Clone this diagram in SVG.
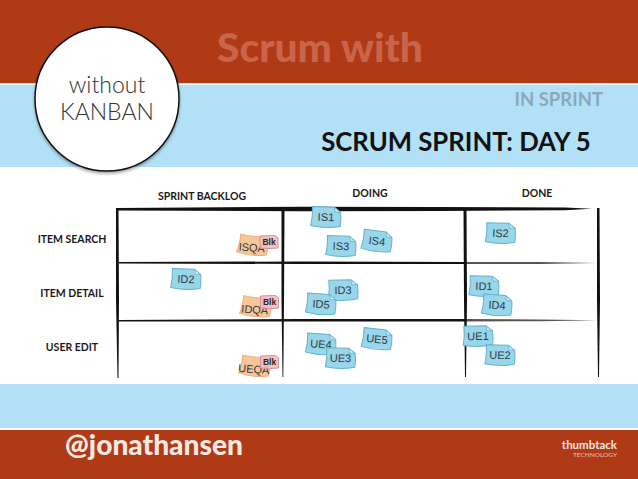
<svg xmlns="http://www.w3.org/2000/svg" width="638" height="479" viewBox="0 0 638 479">
<defs>
<style>
text{font-family:"Lato","Liberation Sans",sans-serif}
.s{font-family:"Liberation Sans",Arial,sans-serif;font-size:11px;fill:#2a3a42;text-anchor:middle}
.k{font-family:"Liberation Sans",Arial,sans-serif;font-size:8.500px;font-weight:700;fill:#2a2a2a;text-anchor:middle}
.h{font-family:"Lato","Liberation Sans",sans-serif;font-size:10.500px;font-weight:700;fill:#1a1a1a;text-anchor:middle}
.ln{fill:#111;stroke:none}
.fd{fill:#555;stroke:none}
.b{fill:#9ad6ea;stroke:#62b3cd;stroke-width:1}
.o{fill:#f8c698;stroke:#efae74;stroke-width:1}
.p{fill:#f3bcc0;fill-opacity:.9;stroke:#dc8f98;stroke-width:1}
.f{fill:#cbeaf4;stroke:#62b3cd;stroke-width:.8}
</style>
<g id="note"><path class="b" d="M-14-10 L8-10 L14.500-5 Q15.500 2 14.500 9 Q0 12-15 9 Q-13 0-14-10Z"/><path class="f" d="M8-10 L9-5 L14.500-5Z"/></g>
<g id="qa"><path class="o" d="M-13-10 Q0-8 15-9 Q16 1 14 9 Q0 12-16 8 Q-13 0-13-10Z"/></g>
<g id="blk"><path class="p" d="M-9-6 L6-6.500 L9-4 L9 6 Q0 7-9 6Z"/></g>
<filter id="sh" x="-20%" y="-20%" width="140%" height="140%"><feDropShadow dx="0" dy="2" stdDeviation="1.500" flood-color="#000" flood-opacity=".35"/></filter>
</defs>

<g id="background">
<rect width="638" height="83.500" fill="#b03a15"/>
<rect y="83.500" width="638" height="84" fill="#fff"/>
<rect y="85" width="638" height="82" fill="#b2e0f7"/>
<rect y="167" width="638" height="217" fill="#fff"/>
<rect y="384" width="638" height="44" fill="#b2e0f7"/>
<rect y="428" width="638" height="2" fill="#fff"/>
<rect y="430" width="638" height="49" fill="#b03a15"/>
</g>

<g id="titles">
<text x="217" y="62" font-size="40" font-weight="900" fill="#c9654a" textLength="206" lengthAdjust="spacingAndGlyphs">Scrum with</text>
<text x="603" y="106" font-size="18.500" font-weight="700" fill="#8aa9b9" text-anchor="end">IN SPRINT</text>
<text x="456" y="151" font-size="25.700" font-weight="700" fill="#111" text-anchor="middle">SCRUM SPRINT: DAY 5</text>
<text x="65" y="455" font-size="29" font-weight="900" fill="#f6e9e3" textLength="178" lengthAdjust="spacingAndGlyphs">@jonathansen</text>
<text x="617" y="449" font-size="11.500" font-weight="700" fill="#f3e6e0" text-anchor="end">thumbtack</text>
<text x="617" y="457" font-size="6.500" fill="#e5c5b8" text-anchor="end">TECHNOLOGY</text>
</g>

<g id="badge">
<circle cx="107" cy="99" r="72" fill="#fff" stroke="#111" stroke-width="1.500" filter="url(#sh)"/>
<text x="107" y="93" font-size="23" font-weight="300" fill="#333" text-anchor="middle">without</text>
<text x="107" y="120" font-size="23" font-weight="300" fill="#333" text-anchor="middle">KANBAN</text>
</g>

<g id="headers">
<text class="h" x="202" y="200">SPRINT BACKLOG</text>
<text class="h" x="370" y="197">DOING</text>
<text class="h" x="537" y="197">DONE</text>
<text class="h" x="72" y="243">ITEM SEARCH</text>
<text class="h" x="72" y="297">ITEM DETAIL</text>
<text class="h" x="72" y="351">USER EDIT</text>
</g>

<g id="connectors">
<path class="ln" d="M118 208 L300 206.800 L440 207 L565 207.500 L592 208.800 L565 210.200 L440 211 L300 211.200 L118 210.500Z"/>
<path class="ln" d="M119 262 L300 261.500 L465 262 L465 264 L300 264 L119 263.500Z"/>
<path class="fd" d="M465 262 L540 262 L597 263 L540 264 L465 264Z"/>
<path class="ln" d="M119 320 L300 319 L465 319 L465 321.500 L300 321.500 L119 321.500Z"/>
<path class="fd" d="M465 319 L540 319.500 L597 320.200 L540 321.200 L465 321.500Z"/>
<path class="ln" d="M116 208 L118.500 208 L119 300 L118.500 378 L117.500 378 L116 300Z"/>
<path class="ln" d="M281.500 208 L284.500 208 L284 300 L283.300 377 L282.500 377 L281.500 300Z"/>
<path class="ln" d="M463.500 208 L466.500 208 L467 300 L466 377 L465 377 L464 300Z"/>
<path class="ln" d="M597 208 L599.500 208 L600 300 L599 377 L598 377 L597 300Z"/>
</g>

<g id="IS1" transform="translate(326 217) rotate(2)"><use href="#note"/><text class="s" y="4">IS1</text></g>
<g id="IS3" transform="translate(341 246) rotate(2)"><use href="#note"/><text class="s" y="4">IS3</text></g>
<g id="IS4" transform="translate(377 241) rotate(7)"><use href="#note"/><text class="s" y="4">IS4</text></g>
<g id="IS2" transform="translate(500.500 233) rotate(1)"><use href="#note"/><text class="s" y="4">IS2</text></g>
<g id="ID2" transform="translate(186 279) rotate(2)"><use href="#note"/><text class="s" y="4">ID2</text></g>
<g id="ID3" transform="translate(343 290) rotate(-1)"><use href="#note"/><text class="s" y="4">ID3</text></g>
<g id="ID5" transform="translate(321 304) rotate(4)"><use href="#note"/><text class="s" y="4">ID5</text></g>
<g id="ID1" transform="translate(484 286) rotate(1)"><use href="#note"/><text class="s" y="4">ID1</text></g>
<g id="ID4" transform="translate(497 305) rotate(4)"><use href="#note"/><text class="s" y="4">ID4</text></g>
<g id="UE1" transform="translate(478 336) rotate(-1)"><use href="#note"/><text class="s" y="4">UE1</text></g>
<g id="UE2" transform="translate(500 355) rotate(1)"><use href="#note"/><text class="s" y="4">UE2</text></g>
<g id="UE4" transform="translate(321 344) rotate(4)"><use href="#note"/><text class="s" y="4">UE4</text></g>
<g id="UE3" transform="translate(340.500 358) rotate(1)"><use href="#note"/><text class="s" y="4">UE3</text></g>
<g id="UE5" transform="translate(377 339) rotate(6)"><use href="#note"/><text class="s" y="4">UE5</text></g>

<g id="ISQA" transform="translate(253 245) rotate(4)"><use href="#qa"/><text class="s" x="-1" y="6.500">ISQA</text></g>
<g id="ISQA-Blk" transform="translate(269 242)"><use href="#blk"/><text class="k" y="3">Blk</text></g>
<g id="IDQA" transform="translate(256 306.500) rotate(4)"><use href="#qa"/><text class="s" x="-1" y="7">IDQA</text></g>
<g id="IDQA-Blk" transform="translate(269.500 302)"><use href="#blk"/><text class="k" y="3">Blk</text></g>
<g id="UEQA" transform="translate(255 366) rotate(4)"><use href="#qa"/><text class="s" x="-1" y="7">UEQA</text></g>
<g id="UEQA-Blk" transform="translate(269.500 362)"><use href="#blk"/><text class="k" y="3">Blk</text></g>
</svg>
